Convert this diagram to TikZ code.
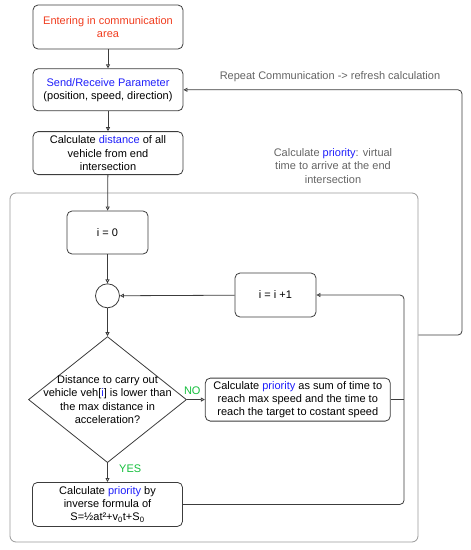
\documentclass[tikz,border=0pt]{standalone}
\usepackage{fontspec}
\setmainfont{Liberation Sans}
\usepackage{tikz}
\usetikzlibrary{arrows.meta, positioning, shapes.geometric}
\definecolor{enterred}{RGB}{240,60,30}
\definecolor{keyblue}{RGB}{30,30,250}
\definecolor{yesgreen}{RGB}{20,190,60}
\definecolor{notegray}{RGB}{100,100,100}
\definecolor{linegray}{RGB}{60,60,60}

\begin{document}
\begin{tikzpicture}[
    x=1pt, y=-1pt,
    font=\fontsize{11}{13.2}\selectfont,
    stepbox/.style={rectangle, draw=linegray, rounded corners=5pt, line width=0.8pt, minimum width=150pt, minimum height=43pt, align=center, inner sep=1pt},
    smallbox/.style={stepbox, minimum width=81pt, minimum height=43pt},
    decision/.style={diamond, draw=linegray, line width=0.8pt, minimum width=158pt, minimum height=126pt, inner sep=0pt},
    joint/.style={circle, draw=linegray, line width=0.8pt, minimum size=24pt, inner sep=0pt},
    area/.style={rectangle, draw=gray!80, rounded corners=6pt, line width=0.8pt, minimum width=408pt, minimum height=349pt},
    note/.style={text=notegray, align=center},
    answer/.style={text=yesgreen},
    flow/.style={-{Triangle[open, length=4pt, width=4pt]}, draw=linegray, line width=0.8pt},
]
\useasboundingbox (0,0) rectangle (471,550);

% Top chain
\node[stepbox, minimum height=44pt] (enter) at (108,27) {\textcolor{enterred}{Entering in communication}\\\textcolor{enterred}{area}};
\node[stepbox, below=19pt of enter, minimum height=42pt] (send) {\textcolor{keyblue}{Send/Receive Parameter}\\(position, speed, direction)};
\node[stepbox, below=20pt of send] (dist) {Calculate \textcolor{keyblue}{distance} of all\\vehicle from end\\intersection};

% Priority area
\node[area] (zone) at (214,367.5) {};
\node[note] (zonelabel) at (333,166) {Calculate \textcolor{keyblue}{priority}: virtual\\time to arrive at the end\\intersection};
\node[note] (repeat) at (330,77) {Repeat Communication -> refresh calculation};

\node[smallbox] (init) at (107.5,232.5) {i = 0};
\node[joint, below=29pt of init] (merge) {};
\node[decision, below=28pt of merge] (check) {};
\node[align=center] (checktext) at (check) {Distance to carry out\\vehicle veh[\textcolor{keyblue}{i}] is lower than\\the max distance in\\acceleration?};
\node[smallbox, minimum height=44pt] (incr) at (275.5,295) {i = i +1};
\node[stepbox, right=18pt of check, minimum width=185pt] (sumcase) {Calculate \textcolor{keyblue}{priority} as sum of time to\\reach max speed and the time to\\reach the target to costant speed};
\node[stepbox, below=19pt of check, minimum height=44pt] (inverse) {Calculate \textcolor{keyblue}{priority} by\\inverse formula of\\S=½at²+v\textsubscript{0}t+S\textsubscript{0}};

\coordinate (loopx) at (404,0);
\coordinate (backx) at (462,335);

% Arrows
\draw[flow] (enter) -- (send);
\draw[flow] (send) -- (dist);
\draw[flow] (dist) -- (init);
\draw[flow] (init) -- (merge);
\draw[flow] (merge) -- (check);
\draw[flow] (incr) -- (merge);
\draw[flow] (check) -- node[answer, above=1pt, pos=0.3] {NO} (sumcase);
\draw[flow] (check) -- node[answer, right=8pt, pos=0.3] {YES} (inverse);

% Loops
\draw[flow, rounded corners=4pt] (inverse.east) -- (loopx |- inverse.east) -- (loopx |- incr.east) -- (incr.east);
\draw[linegray, line width=0.8pt] (sumcase.east) -- (loopx |- sumcase.east);
\draw[flow, rounded corners=4pt] (zone.east |- backx) -- (backx) |- (send.east);

\end{tikzpicture}
\end{document}
